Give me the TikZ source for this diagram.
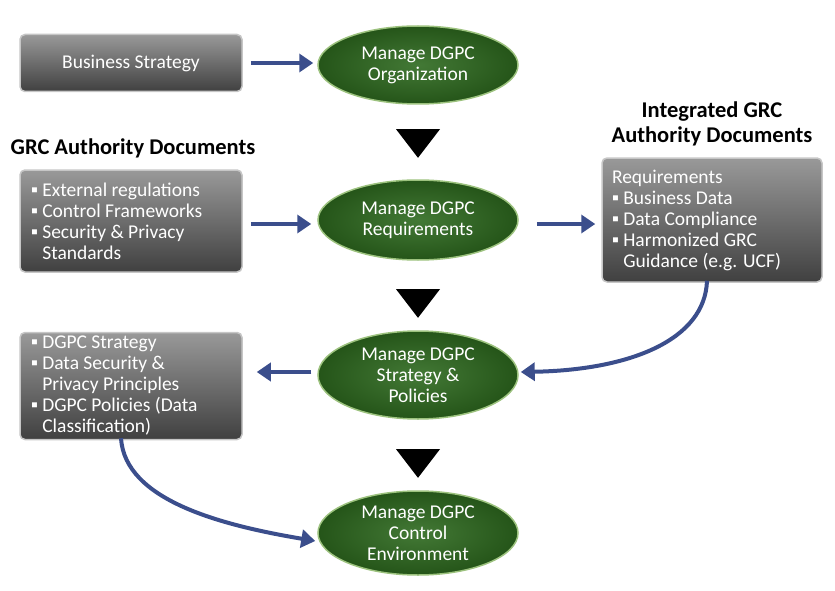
\documentclass[tikz,border=0pt]{standalone}
\usepackage{fontspec}
\setmainfont{Carlito}
\usetikzlibrary{shapes.geometric,arrows.meta}
\definecolor{grn}{HTML}{2E6A1F}
\definecolor{grnb}{HTML}{9CC27E}
\definecolor{gry}{HTML}{505050}
\definecolor{blu}{HTML}{3B4E8C}
\begin{document}
\begin{tikzpicture}[x=1pt,y=-1pt,
 box/.style={draw=gray!45,line width=1.5pt,rounded corners=5pt,top color=gray!80,bottom color=gry!80!black,text=white,font=\fontsize{19.5}{21}\selectfont,inner xsep=10pt},
 lbox/.style={box,text width=200pt,align=flush left},
 ell/.style={ellipse,draw=grnb,line width=1.5pt,inner color=grn!90!white,outer color=grn!80!black,text=white,align=center,font=\fontsize{19.5}{21}\selectfont,minimum width=200pt,inner sep=0pt},
 arr/.style={blu,line width=4pt,-{Triangle[length=14pt,width=18pt]}},
 tri/.style={isosceles triangle,shape border rotate=-90,isosceles triangle apex angle=75,fill=black,inner sep=0,minimum width=44pt,minimum height=24pt},
 ttl/.style={font=\bfseries\fontsize{22.5}{25}\selectfont,align=center}]
\useasboundingbox (0,0) rectangle (835,591);
\node[box,minimum width=222pt,minimum height=57pt] (b1) at (131,63) {Business Strategy};
\node[lbox,minimum height=102pt,inner xsep=11pt] (b2) at (131,221) {▪ External regulations\\▪ Control Frameworks\\▪ Security \& Privacy\\\phantom{▪ }Standards};
\node[lbox,minimum height=124pt,inner xsep=10pt] (b3) at (712,220) {Requirements\\▪ Business Data\\▪ Data Compliance\\▪ Harmonized GRC\\\phantom{▪ }Guidance (e.g. UCF)};
\node[lbox,minimum height=107pt,inner xsep=11pt] (b4) at (131,386) {▪ DGPC Strategy\\▪ Data Security \&\\\phantom{▪ }Privacy Principles\\▪ DGPC Policies (Data\\\phantom{▪ }Classification)};
\node[ell,minimum height=78pt] (e1) at (418,65) {Manage DGPC\\Organization};
\node[ell,minimum height=80pt] (e2) at (418,220) {Manage DGPC\\Requirements};
\node[ell,minimum height=88pt] (e3) at (418,375) {Manage DGPC\\Strategy \&\\Policies};
\node[ell,minimum height=84pt] (e4) at (418,533) {Manage DGPC\\Control\\Environment};
\node[tri] (t1) at (418,140) {};
\node[tri] (t2) at (418,300) {};
\node[tri] (t3) at (418,460) {};
\node[ttl] (h1) at (133,148) {GRC Authority Documents};
\node[ttl] (h2) at (712,124) {Integrated GRC\\Authority Documents};
\draw[arr] ([xshift=8pt]b1.east) coordinate (a1) -- ([xshift=-4pt]e1.west|-a1);
\draw[arr] ([xshift=8pt,yshift=-3pt]b2.east) coordinate (a2) -- ([xshift=-6pt]e2.west|-a2);
\draw[arr] ([xshift=18pt]e2.east|-a2) -- ([xshift=-6pt]b3.west|-a2);
\draw[arr] ([xshift=-6pt,yshift=3pt]e3.west) coordinate (a3) -- ([xshift=14pt]b4.east|-a3);
\draw[arr] ([xshift=-5pt,yshift=2pt]b3.south) .. controls (705,340) and (630,370) .. ([xshift=2pt,yshift=3pt]e3.east);
\draw[arr] ([xshift=-10pt,yshift=2pt]b4.south) .. controls (125,500) and (220,525) .. ([xshift=-2pt,yshift=-8pt]e4.west);
\end{tikzpicture}
\end{document}
